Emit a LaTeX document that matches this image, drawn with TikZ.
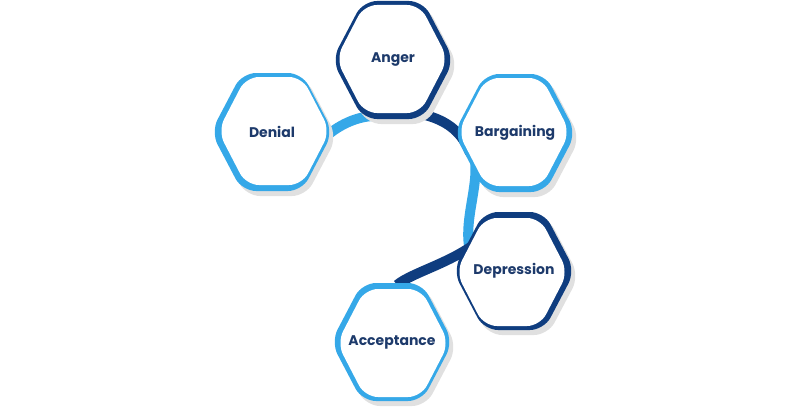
\documentclass[tikz,border=0pt]{standalone}
\usepackage{fontspec}
\setmainfont{Poppins}
\usetikzlibrary{calc}
\definecolor{lb}{HTML}{35A8E8}
\definecolor{db}{HTML}{0F3D7F}
\definecolor{txt}{HTML}{1D3A6B}
\tikzset{lbl/.style={font=\bfseries\fontsize{14}{16}\selectfont, text=txt},
 ribbon/.style={line width=10pt, line cap=butt}}
\newcommand{\hexa}[4]{% center x, y, color, offset of inner
 \fill[black!12, rounded corners=14pt] ($(#1,#2)+(4,5)$) +(-61,0) -- +(-30,-59) -- +(30,-59) -- +(61,0) -- +(30,59) -- +(-30,59) -- cycle;
 \fill[#3, rounded corners=14pt] (#1,#2) +(-61,0) -- +(-30,-59) -- +(30,-59) -- +(61,0) -- +(30,59) -- +(-30,59) -- cycle;
 \fill[white, rounded corners=13pt] ($(#1,#2)+(#4)$) +(-56,0) -- +(-28,-54) -- +(28,-54) -- +(56,0) -- +(28,54) -- +(-28,54) -- cycle;
}
\begin{document}
\begin{tikzpicture}[x=1pt,y=-1pt]
\useasboundingbox (0,0) rectangle (800,420);
\fill[white] (0,0) rectangle (800,420);
\node[inner sep=0] (den) at (272,132) {};
\node[inner sep=0] (ang) at (393,60) {};
\node[inner sep=0] (bar) at (515,133) {};
\node[inner sep=0] (dep) at (514,271) {};
\node[inner sep=0] (acc) at (392,342) {};
% ribbons
\draw[ribbon, lb] ($(den)+(35,30)$) .. controls ($(den)+(45,5)$) and ($(ang)+(-40,50)$) .. ($(ang)+(-5,57)$);
\draw[ribbon, db] ($(ang)+(-25,50)$) .. controls ($(ang)+(20,50)$) and ($(bar)+(-60,-20)$) .. ($(bar)+(-45,20)$);
\draw[ribbon, lb] ($(bar)+(-45,10)$) .. controls ($(bar)+(-30,40)$) and ($(dep)+(-50,-60)$) .. ($(dep)+(-45,-25)$);
\draw[ribbon, db] ($(dep)+(-30,-35)$) .. controls ($(dep)+(-55,-10)$) and ($(acc)+(20,-70)$) .. ($(acc)+(5,-57)$);
\hexa{272}{132}{lb}{2,-1}
\hexa{393}{60}{db}{-1,-1}
\hexa{515}{133}{lb}{-1,-1}
\hexa{514}{271}{db}{-2,1}
\hexa{392}{342}{lb}{1,1}
\node[lbl] at (den) {Denial};
\node[lbl] at (ang) {Anger};
\node[lbl] at (bar) {Bargaining};
\node[lbl] at (dep) {Depression};
\node[lbl] at (acc) {Acceptance};
\end{tikzpicture}
\end{document}
